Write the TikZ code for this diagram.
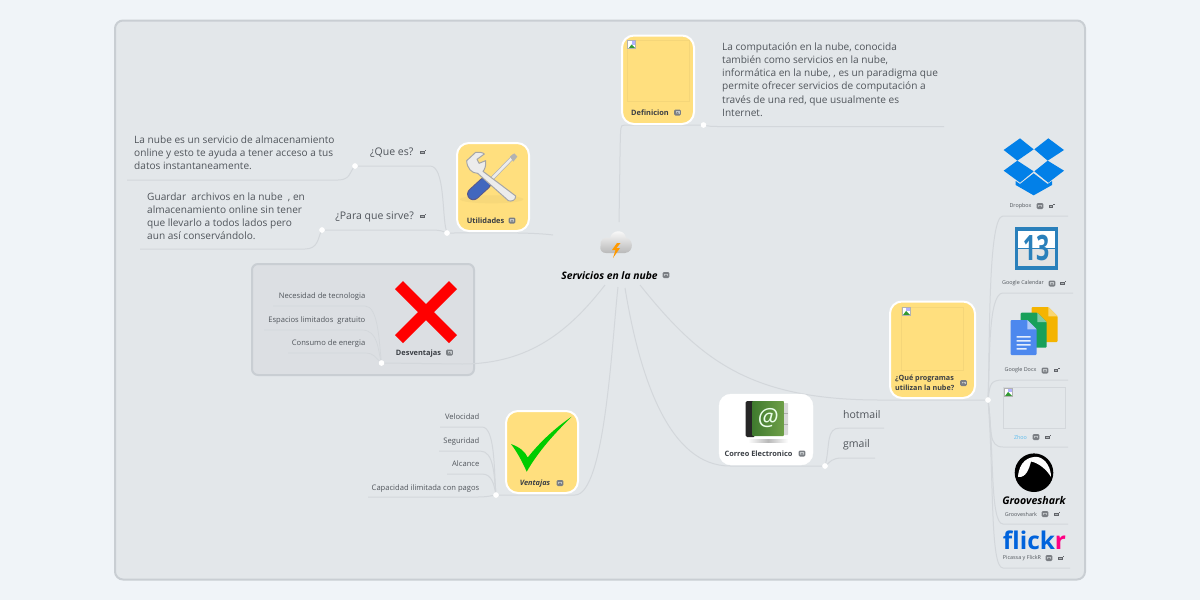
\documentclass[tikz,border=0pt]{standalone}
\usepackage{fontspec}
\setmainfont{Open Sans}
\definecolor{pagebg}{HTML}{F0F4F8}
\definecolor{panelbg}{HTML}{E3E7EA}
\definecolor{panelbd}{HTML}{C9CED3}
\definecolor{groupbg}{HTML}{DCDFE3}
\definecolor{linkc}{HTML}{D3D7DB}
\definecolor{cardy}{HTML}{FFDF7E}
\definecolor{txt}{HTML}{50555B}
\definecolor{txtb}{HTML}{3A3E44}
\definecolor{iconc}{HTML}{7B7F84}
\definecolor{calblue}{HTML}{2A80BB}
\definecolor{chk}{HTML}{00CC00}
\definecolor{bookl}{HTML}{3F7A2E}
\definecolor{bookr}{HTML}{6FA048}
\definecolor{zhooc}{HTML}{5BBDF0}
\tikzset{x=1pt,y=-1pt,
 link/.style={draw=linkc,line width=1pt},
 card/.style={fill=cardy,draw=white,line width=2pt,rounded corners=12pt},
 junction/.style={circle,fill=white,inner sep=0pt,minimum size=5.5pt},
 bigtext/.style={anchor=north west,inner sep=0pt,align=left,text=txt,font=\fontsize{10.1}{13.2}\selectfont},
 labeltext/.style={inner sep=0pt,text=txt,font=\fontsize{10.5}{13.2}\selectfont},
 subtext/.style={anchor=east,inner sep=0pt,yshift=-.6pt,text=txt,font=\fontsize{7.6}{9}\selectfont},
 topic/.style={inner sep=0pt,yshift=-.7pt,text=txtb,font=\fontsize{7.4}{9}\bfseries\selectfont},
 tiny/.style={inner sep=0pt,yshift=-.5pt,text=txt,font=\fontsize{5.4}{6}\selectfont},
 placeholder/.style={draw=black!4!cardy,line width=.5pt},
 picicon/.pic={\fill[iconc,rounded corners=1.2pt] (-3.4,-3) rectangle (3.4,3);\fill[panelbg!70!iconc] (-2,-1.5) rectangle (2,1);\fill[iconc] (-1.6,1)--(0,-.7)--(1.6,1)--cycle;},
 noteicon/.pic={\fill[iconc!80!black] (-2.6,-1.4) rectangle (1.6,2.4);\fill[iconc!80!black] (1.9,-2.4) rectangle (3,-1.2);\fill[panelbg!50!iconc] (-1.8,0) rectangle (.8,.5);},
 brokenicon/.pic={\fill[white] (0,0) rectangle (8,8);\fill[green!50!black!80] (1,8)--(4,4)--(8,8)--cycle;\fill[blue!30] (4,0) rectangle (8,4);\draw[gray!60,line width=.3pt] (0,0) rectangle (8,8);}
}
\begin{document}
\begin{tikzpicture}
\useasboundingbox (0,0) rectangle (1200,600);
\fill[pagebg] (0,0) rectangle (1200,600);
\draw[fill=panelbg,draw=panelbd,line width=2pt,rounded corners=8pt] (115,20.5) rectangle (1085,579.5);
\draw[fill=groupbg,draw=panelbd,line width=2pt,rounded corners=6pt] (252,264) rectangle (474,375);

% free ends of the connectors
\coordinate (rootN) at (619,222);
\coordinate (rootW) at (553,235);
\coordinate (rootSW) at (605,285);
\coordinate (rootS) at (618,287);
\coordinate (rootSE) at (625,288);
\coordinate (rootE) at (640,285);
\coordinate (defEnd) at (944,126.5);
\coordinate (queEnd) at (127,180);
\coordinate (paraEnd) at (140,249);
\coordinate (nec) at (273,306);
\coordinate (esp) at (264,330);
\coordinate (con) at (288,353);
\coordinate (vel) at (440,427);
\coordinate (seg) at (439,451);
\coordinate (alc) at (447,474);
\coordinate (cap) at (368,497);
\coordinate (hot) at (884,428);
\coordinate (gma) at (875,458);
\coordinate (drop) at (1068,216);
\coordinate (gcal) at (1073,293);
\coordinate (gdoc) at (1068,380);
\coordinate (zhoo) at (1068,447);
\coordinate (groo) at (1068,524);
\coordinate (flic) at (1070,568);

\node[junction] (jdef) at (703.5,125) {};
\node[junction] (juti) at (447,233) {};
\node[junction] (jque) at (355,166) {};
\node[junction] (jpar) at (322,230) {};
\node[junction] (jdes) at (381.5,363) {};
\node[junction] (jven) at (496,495) {};
\node[junction] (jcor) at (825,466) {};
\node[junction] (jpro) at (988,400) {};

\draw[link] (rootN) .. controls (620,170) and (620,130) .. (621,128) .. controls (621,126) and (622,125) .. (625,125) -- (jdef);
\draw[link] (jdef) .. controls (710,126.5) and (712,126.5) .. (718,126.5) -- (defEnd);
\draw[link] (rootW) .. controls (530,232) and (490,233) .. (juti);
\draw[link] (juti) .. controls (442,215) and (445,166) .. (430,166) -- (jque);
\draw[link] (jque) .. controls (350,172) and (350,180) .. (338,180) -- (queEnd);
\draw[link] (juti) .. controls (440,230) and (435,230) .. (425,230) -- (jpar);
\draw[link] (jpar) .. controls (318,238) and (318,249) .. (305,249) -- (paraEnd);
\draw[link] (rootSW) .. controls (570,330) and (530,364) .. (462,364) -- (jdes);
\draw[link,line width=.7pt] (jdes) .. controls (379,340) and (378,306) .. (365,306) -- (nec);
\draw[link,line width=.7pt] (jdes) .. controls (378,350) and (378,330) .. (362,330) -- (esp);
\draw[link,line width=.7pt] (jdes) .. controls (376,358) and (374,353) .. (365,353) -- (con);
\draw[link] (rootS) .. controls (612,340) and (605,495) .. (575,495) -- (jven);
\draw[link] (jven) .. controls (494,470) and (495,427) .. (482,427) -- (vel);
\draw[link] (jven) .. controls (494,475) and (494,451) .. (480,451) -- (seg);
\draw[link] (jven) .. controls (494,485) and (492,474) .. (482,474) -- (alc);
\draw[link] (jven) .. controls (490,496) and (486,497) .. (478,497) -- (cap);
\draw[link] (rootSE) .. controls (640,380) and (670,466) .. (730,466) -- (jcor);
\draw[link] (jcor) .. controls (830,445) and (826,428) .. (840,428) -- (hot);
\draw[link] (jcor) .. controls (830,462) and (832,458) .. (842,458) -- (gma);
\draw[link] (rootE) .. controls (700,360) and (750,400) .. (880,400) -- (jpro);
\draw[link] (jpro) .. controls (990,340) and (988,216) .. (1003,216) -- (drop);
\draw[link] (jpro) .. controls (990,360) and (988,293) .. (1003,293) -- (gcal);
\draw[link] (jpro) .. controls (990,385) and (990,380) .. (1003,380) -- (gdoc);
\draw[link] (jpro) .. controls (992,430) and (988,447) .. (1003,447) -- (zhoo);
\draw[link] (jpro) .. controls (994,450) and (990,524) .. (1003,524) -- (groo);
\draw[link] (jpro) .. controls (994,480) and (990,568) .. (1003,568) -- (flic);
% repaint dots on top
\foreach \p in {jdef,juti,jque,jpar,jdes,jven,jcor,jpro}{\fill[white] (\p) circle (2.6pt);}

% --- cards
\draw[card] (622,35.5) rectangle (694,124);
\draw[placeholder] (627.5,40.5) rectangle (689,101.5);
\pic at (627.5,40.5) {brokenicon};
\node[topic] (tdef) at (650,112) {Definicion};
\pic at (677.5,112.5) {picicon};

\draw[card] (457,143) rectangle (529,231);
\node[topic] (tuti) at (485.5,220) {Utilidades};
\pic at (512,220.5) {picicon};

\draw[card] (506,411) rectangle (578,493);
\node[topic,font=\fontsize{7.4}{9}\bfseries\itshape\selectfont] (tven) at (535,482.5) {Ventajas};
\pic at (560,483) {picicon};

\draw[fill=white,draw=white,rounded corners=12pt] (719,394) rectangle (813,465);
\node[topic] (tcor) at (758.5,453.5) {Correo Electronico};
\pic at (802,453.5) {picicon};

\draw[card] (890,301.5) rectangle (975,398);
\draw[placeholder] (901.5,307.5) rectangle (963,370);
\pic at (902,307) {brokenicon};
\node[topic,anchor=north west,align=left,font=\fontsize{7.2}{9.6}\bfseries\selectfont] (tpro) at (895,374.5) {¿Qué programas\\utilizan la nube?};
\pic at (963.5,383) {picicon};

% --- root
\node[inner sep=0pt,yshift=-.3pt,text=black,font=\fontsize{10.3}{11}\bfseries\itshape\selectfont] (root) at (609.5,275.5) {Servicios en la nube};
\pic at (666,275) {picicon};
\shade[top color=white,bottom color=gray!55] (600.5,246) .. controls (599,240) and (605,236) .. (610,238) .. controls (612,229) and (625,229) .. (626,238) .. controls (633,238) and (635,252) .. (625,253) -- (606,253) .. controls (602,253) and (599.5,250) .. (600.5,246) -- cycle;
\fill[orange!80!yellow] (617,243) -- (612,250) -- (615.5,250) -- (613,258) -- (620,248) -- (616.5,248) -- (620.5,243) -- cycle;

% --- long texts
\node[bigtext] (tnube) at (722,42.3) {La computación en la nube, conocida\\también como servicios en la nube,\\informática en la nube, , es un paradigma que\\permite ofrecer servicios de computación a\\través de una red, que usualmente es\\Internet.};
\node[bigtext] (tque) at (134,135.3) {La nube es un servicio de almacenamiento\\online y esto te ayuda a tener acceso a tus\\datos instantaneamente.};
\node[bigtext] (tpara) at (147,192.3) {Guardar\ \ archivos en la nube\ \ , en\\almacenamiento online sin tener\\que llevarlo a todos lados pero\\aun así conservándolo.};
\node[labeltext,anchor=east] (lque) at (413.5,153) {¿Que es?};
\pic at (423,152) {noteicon};
\node[labeltext,anchor=east] (lpar) at (414,217) {¿Para que sirve?};
\pic at (423,216) {noteicon};
\node[labeltext,anchor=west] (lhot) at (843,415) {hotmail};
\node[labeltext,anchor=west] (lgma) at (843,445) {gmail};

\node[subtext] (snec) at (365.5,295.5) {Necesidad de tecnologia};
\node[subtext] (sesp) at (365.5,319.5) {Espacios limitados\ \ gratuito};
\node[subtext] (scon) at (365.5,342.5) {Consumo de energia};
\node[subtext] (svel) at (479.5,416.5) {Velocidad};
\node[subtext] (sseg) at (479.5,440.5) {Seguridad};
\node[subtext] (salc) at (479.5,463.5) {Alcance};
\node[subtext] (scap) at (479.5,487.5) {Capacidad ilimitada con pagos};

\node[topic] (tdes) at (418.5,352.5) {Desventajas};
\pic at (449.5,352.5) {picicon};

% --- X and check
\fill[red] (403,281) -- (426,304) -- (449,281) -- (457,289) -- (434,312) -- (457,335) -- (449,343) -- (426,320) -- (403,343) -- (395,335) -- (418,312) -- (395,289) -- cycle;
\fill[chk] (571.7,416.7) .. controls (553,435) and (538,452) .. (526.7,471.7) .. controls (522,461) and (517,452) .. (511,444) .. controls (519,447) and (525,451) .. (527.7,457.5) .. controls (540,442) and (555,428) .. (571.7,416.7) -- cycle;

% --- tools icon
\begin{scope}[shift={(455,140)},x=1/3*1pt,y=-1/3*1pt]
\fill[black!3!cardy] (110,178) ellipse (95 and 12);
% screwdriver
\draw[gray!60,line width=4pt] (178,47) -- (105,122);
\draw[gray!15,line width=2.6pt] (178,47) -- (105,122);
\fill[gray!60] (165,50) -- (178,40) -- (187,50) -- (175,65) -- cycle;
\draw[blue!30!black!65,line width=12.5pt,line cap=round] (90,130) -- (55,162);
\draw[blue!40!gray!85!cyan,line width=10.5pt,line cap=round] (90,130) -- (55,162);
% wrench
\filldraw[draw=gray!70,fill=gray!15,line width=1pt,line join=round] (35,62) -- (62,37) .. controls (75,36) and (85,38) .. (88,42) -- (66,58) -- (72,70) -- (92,62) .. controls (94,78) and (88,90) .. (84,94) -- (182,168) .. controls (183,180) and (170,186) .. (160,182) -- (68,100) .. controls (50,100) and (36,85) .. (35,62) -- cycle;
\end{scope}

% --- book
\shade[left color=white,right color=white,middle color=gray!55] (748,439) rectangle (788,442);
\fill[gray!30,rounded corners=.6pt] (783,403) rectangle (788,435);
\draw[gray!65,line width=.4pt] (783,413) -- (788,413) (783,424) -- (788,424);
\fill[black!85,rounded corners=1.5pt] (745.7,401) rectangle (755,437);
\shade[left color=bookl,right color=bookr,rounded corners=1pt] (752,401) rectangle (784,436);
\node[inner sep=0pt,text=white!92!green,font=\fontsize{24}{24}\itshape\selectfont] (bookat) at (768,418.5) {@};

% --- dropbox
\begin{scope}[shift={(880,130)},x=1/3*1pt,y=-1/3*1pt]
\definecolor{dbx}{HTML}{0280E8}
\fill[dbx] (371,60)--(420,25)--(461,58)--(412,92)--cycle;
\fill[dbx] (463,58)--(505,25)--(552,60)--(503,92)--cycle;
\fill[dbx] (371,122)--(412,92)--(461,124)--(420,158)--cycle;
\fill[dbx] (463,124)--(503,92)--(552,122)--(505,158)--cycle;
\fill[dbx] (407,153)--(420,162)--(461,130)--(503,162)--(516,153)--(516,165)--(461,196)--(407,165)--cycle;
% calendar
\fill[calblue] (405,292) rectangle (533,420);
\fill[white] (415,303) rectangle (525,355);
\fill[gray!22] (415,355) rectangle (525,408);
\draw[calblue,line width=.5pt] (415,355) -- (525,355);
\node[inner sep=0pt,text=calblue,font=\fontsize{35}{35}\bfseries\selectfont] (cal13) at (468,354) {\scalebox{0.66}[1]{13}};
% docs
\definecolor{dy}{HTML}{F4B400}\definecolor{dg}{HTML}{18A05A}\definecolor{db}{HTML}{4D88EE}
\fill[dy,rounded corners=1pt] (455,531) -- (505,531) -- (533,559) -- (533,636) -- (455,636) -- cycle;
\fill[dy!55!white] (505,531) -- (533,559) -- (505,559) -- cycle;
\fill[dg,rounded corners=1pt] (422,548) -- (472,548) -- (500,576) -- (500,653) -- (422,653) -- cycle;
\fill[dg!55!white] (472,548) -- (500,576) -- (472,576) -- cycle;
\fill[db,rounded corners=1pt] (392,570) -- (442,570) -- (470,598) -- (470,675) -- (392,675) -- cycle;
\fill[db!45!white] (442,570) -- (470,598) -- (442,598) -- cycle;
\fill[white!85!db] (410,618) rectangle (452,623) (410,630) rectangle (452,635) (410,642) rectangle (452,647) (410,654) rectangle (440,659);
\end{scope}

\node[tiny] (ldrop) at (1020.5,206) {Dropbox};
\pic at (1040,206) {picicon}; \pic at (1051.5,206) {noteicon};
\node[tiny] (lcal) at (1023,283) {Google Calendar};
\pic at (1052,283.5) {picicon}; \pic at (1063,283) {noteicon};
\node[tiny] (ldoc) at (1020.5,370) {Google Docx};
\pic at (1045,370.5) {picicon}; \pic at (1056.5,370) {noteicon};
\draw[draw=linkc,line width=.5pt] (1003.5,387.5) rectangle (1065,428);
\pic at (1004,388) {brokenicon};
\node[tiny,text=zhooc] (lzho) at (1020.5,437) {Zhoo};
\pic at (1036,437) {picicon}; \pic at (1048,437) {noteicon};
\fill[black] (1034,472.7) circle (19.3pt);
\fill[white!92!panelbg] (1018,477) .. controls (1019,462) and (1028,456) .. (1038,457) .. controls (1046,459) and (1051,468) .. (1051,477) .. controls (1047,470) and (1039,463) .. (1031,461.5) .. controls (1029,469) and (1026,478) .. (1018,477) -- cycle;
\node[inner sep=0pt,text=black,font=\fontsize{10.6}{12}\bfseries\itshape\selectfont] (gtx) at (1034,501) {Grooveshark};
\node[tiny] (lgro) at (1021,514) {Grooveshark};
\pic at (1045,514) {picicon}; \pic at (1057,514) {noteicon};
\node[inner sep=0pt,font=\fontsize{24.4}{25}\bfseries\selectfont] (ftx) at (1034.5,540) {\textcolor[HTML]{0063DC}{flick}\textcolor[HTML]{FF0084}{r}};
\node[tiny] (lfli) at (1022,558) {Picassa y FlickR};
\pic at (1049,558) {picicon}; \pic at (1061,558) {noteicon};
\end{tikzpicture}
\end{document}
